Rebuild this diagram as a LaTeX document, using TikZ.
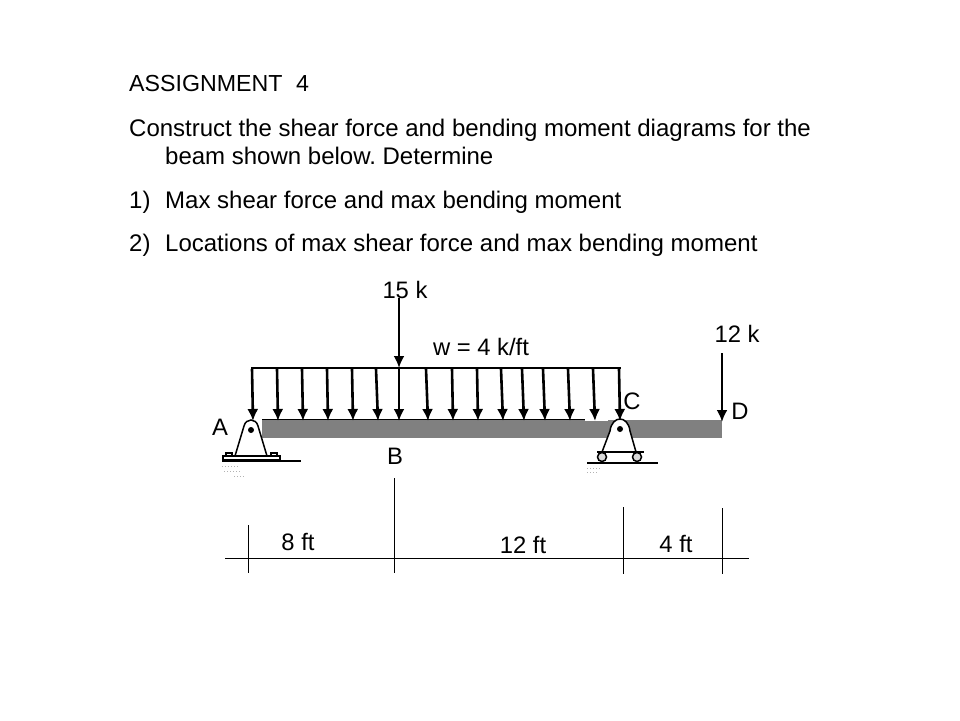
\documentclass[tikz,border=0pt]{standalone}
\usepackage{fontspec}
\usetikzlibrary{arrows.meta}
\setmainfont{Liberation Sans}
\begin{document}
\frenchspacing
\begin{tikzpicture}[x=1pt, y=-1pt, txt/.style = {inner sep=0pt, anchor=base west, font=\fontsize{24}{28}\selectfont}, lab/.style = {inner sep=0pt, font=\fontsize{23.8}{28}\selectfont}, load/.style = {line width=2.6pt, -{Latex[length=12pt,width=11pt]}}, dim/.style = {line width=0.8pt}, sup/.style = {line width=1.5pt}, specks/.style = {gray!60, line width=1pt, dotted}]
\useasboundingbox (0,0) rectangle (960,720);
% text
\node[txt, font=\fontsize{23.2}{28}\selectfont] (title) at (129,91) {ASSIGNMENT\hspace{7pt} 4};
\node[txt] (q1) at (129,136) {Construct the shear force and bending moment diagrams for the};
\node[txt] (q2) at (165,164) {beam shown below. Determine};
\node[txt] (n1) at (129,208) {1)};
\node[txt] (p1) at (165,208) {Max shear force and max bending moment};
\node[txt] (n2) at (129,251) {2)};
\node[txt] (p2) at (165,251) {Locations of max shear force and max bending moment};
% beam
\fill[gray] (262,420) rectangle (722,438);
\draw[line width=0.8pt] (262,419.5) -- (585,419.5);
\fill[white] (585,419) rectangle (608,421);
% support A
\coordinate (a1) at (235,456);
\coordinate (a2) at (244,426);
\coordinate (a3) at (258,426);
\coordinate (a4) at (267,456);
\filldraw[sup, fill=white] (a1) -- (a2) .. controls (246,418) and (256,418) .. (a3) -- (a4);
\fill (251,430) circle (3pt);
\draw[sup] (226,456) rectangle (232,453);
\draw[sup] (271,456) rectangle (277,453);
\draw[sup] (223,459.5) rectangle (280,456);
\draw[sup] (222,461) -- (301,461);
\draw[specks] (222,466) -- (238,466);
\draw[specks] (224,471) -- (242,471);
\draw[specks] (234,476) -- (245,476);
% support C
\coordinate (c1) at (602,452);
\coordinate (c2) at (610,431);
\coordinate (c3) at (630,431);
\coordinate (c4) at (636,452);
\filldraw[sup, fill=white] (c1) -- (c2) .. controls (612,415) and (628,415) .. (c3) -- (c4);
\fill (620,429) circle (3pt);
\draw[sup] (597,452) -- (644,452);
\draw[sup, fill=gray!30] (602,457) circle (4.5pt);
\draw[sup, fill=gray!30] (637,457) circle (4.5pt);
\draw[sup] (587,463) -- (658,463);
\draw[specks] (587,468) -- (600,468);
\draw[specks] (587,472) -- (598,472);
% loads
\coordinate (p) at (399,298);
\coordinate (pb) at (399,368);
\draw[load] (p) -- (pb);
\coordinate (q) at (722,353);
\coordinate (qb) at (722,422);
\draw[load] (q) -- (qb);
\coordinate (w1) at (251,368);
\coordinate (w2) at (621,368);
\draw[line width=2.4pt] (w1) -- (w2);
\foreach \i/\xa/\xb in {1/252/253, 2/277/278, 3/302/303, 4/327/328, 5/352/353, 6/376/378, 7/399/399, 8/426/428, 9/452/453, 10/477/478, 11/501/503, 12/522/524, 13/543/545, 14/568/570, 15/593/595, 16/619/620} {
  \coordinate (t\i) at (\xa,369);
  \coordinate (b\i) at (\xb,421);
  \draw[load] (t\i) -- (b\i);
}
% labels
\node[lab] (la) at (405,290) {15 k};
\node[lab] (lb) at (737,334) {12 k};
\node[lab] (lw) at (481,347) {w = 4 k/ft};
\node[lab] (ptA) at (220,427) {A};
\node[lab] (ptB) at (395,456) {B};
\node[lab] (ptC) at (632,401) {C};
\node[lab] (ptD) at (740,411) {D};
% dimensions
\coordinate (d0) at (225,558);
\coordinate (d1) at (749,558);
\draw[dim] (d0) -- (d1);
\foreach \n/\x/\ya/\yb in {e/248/525/573, f/394/478/573, g/623/507/574, h/722/508/574} {
  \coordinate (\n1) at (\x,\ya);
  \coordinate (\n2) at (\x,\yb);
  \draw[dim] (\n1) -- (\n2);
}
\node[lab] (d8) at (298,542) {8 ft};
\node[lab] (d12) at (523,545) {12 ft};
\node[lab] (d4) at (676,544) {4 ft};
\end{tikzpicture}
\end{document}
